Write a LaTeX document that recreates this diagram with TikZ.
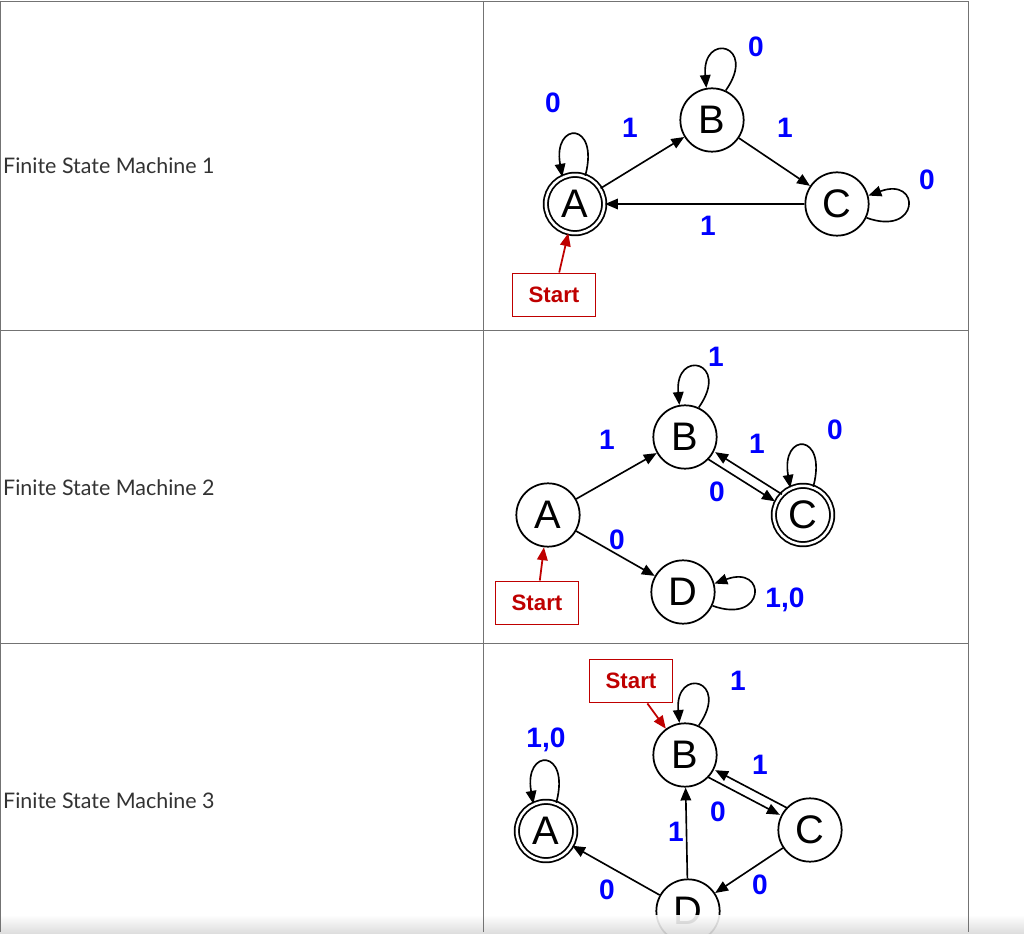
\documentclass[tikz,border=0pt]{standalone}
\usepackage{fontspec}
\setmainfont{Liberation Sans}
\newfontfamily\latofont{Lato}
\usetikzlibrary{arrows.meta}
\begin{document}
\begin{tikzpicture}[x=0.03cm,y=-0.03cm,
  st/.style={circle,draw,line width=1.5pt,minimum size=1.9cm,inner sep=0pt,font=\fontsize{34}{34}\selectfont},
  acc/.style={st,double,double distance=2.2pt,minimum size=1.75cm},
  lb/.style={text=blue,font=\bfseries\fontsize{24}{24}\selectfont,inner sep=0pt},
  startbox/.style={draw=red!75!black,line width=1.4pt,text=red!75!black,font=\bfseries\fontsize{19}{19}\selectfont,minimum width=2.5cm,minimum height=1.3cm},
  tr/.style={-{Triangle[length=11pt,width=9pt]},line width=1.4pt},
  sa/.style={-{Triangle[length=11pt,width=9pt]},line width=1.5pt,red!75!black},
  row/.style={font=\latofont\fontsize{18.3}{18.3}\selectfont,anchor=west,inner sep=0pt,text=black!80}]
\useasboundingbox (0,0) rectangle (1024,934);
\fill[white] (0,0) rectangle (1024,934);
\begin{scope}
\clip (0,0) rectangle (1024,934);
% FSM1
\node[acc] (A1) at (575,204) {A};
\node[st] (B1) at (712,120) {B};
\node[st] (C1) at (837,204) {C};
\node[startbox] (S1) at (554,295) {Start};
\draw[sa] (S1) -- (A1);
\draw[tr] (A1) -- (B1); \node[lb] (l1a) at (630,128) {1};
\draw[tr] (B1) -- (C1); \node[lb] (l1b) at (785,128) {1};
\draw[tr] (C1) -- (A1); \node[lb] (l1c) at (708,226) {1};
\draw[tr] (A1.70) .. controls +(75:1.7cm) and +(100:1.7cm) .. (A1.115); \node[lb] (l1d) at (553,103) {0};
\draw[tr] (B1.65) .. controls +(55:1.7cm) and +(95:1.7cm) .. (B1.100); \node[lb] (l1e) at (756,47) {0};
\draw[tr] (C1.-25) .. controls +(-20:1.7cm) and +(20:1.7cm) .. (C1.15); \node[lb] (l1f) at (927,180) {0};
% FSM2
\node[st] (A2) at (548,515) {A};
\node[st] (B2) at (685,437) {B};
\node[acc] (C2) at (803,515) {C};
\node[st] (D2) at (683,592) {D};
\node[startbox] (S2) at (537,603) {Start};
\draw[sa] (S2) -- (A2);
\draw[tr] (A2) -- (B2); \node[lb] (l2a) at (607,440) {1};
\draw[tr] (A2) -- (D2); \node[lb] (l2b) at (617,540) {0};
\draw[tr] ([xshift=-3pt,yshift=-3pt]B2.-35) -- ([xshift=-3pt,yshift=-3pt]C2.145); \node[lb] (l2c) at (717,492) {0};
\draw[tr] ([xshift=3pt,yshift=3pt]C2.145) -- ([xshift=3pt,yshift=3pt]B2.-35); \node[lb] (l2d) at (757,444) {1};
\draw[tr] (B2.65) .. controls +(55:1.7cm) and +(95:1.7cm) .. (B2.100); \node[lb] (l2e) at (716,357) {1};
\draw[tr] (C2.70) .. controls +(75:1.7cm) and +(100:1.7cm) .. (C2.115); \node[lb] (l2f) at (835,430) {0};
\draw[tr] (D2.-25) .. controls +(-20:1.7cm) and +(20:1.7cm) .. (D2.15); \node[lb] (l2g) at (785,600) {1,0};
% FSM3
\node[acc] (A3) at (546,831) {A};
\node[st] (B3) at (685,755) {B};
\node[st] (C3) at (810,830) {C};
\node[st] (D3) at (688,911) {D};
\node[startbox] (S3) at (631,681) {Start};
\draw[sa] (S3) -- (B3);
\draw[tr] (B3.65) .. controls +(55:1.7cm) and +(95:1.7cm) .. (B3.100); \node[lb] (l3a) at (738,681) {1};
\draw[tr] (A3.70) .. controls +(75:1.7cm) and +(100:1.7cm) .. (A3.115); \node[lb] (l3b) at (546,740) {1,0};
\draw[tr] ([xshift=3pt,yshift=3pt]C3.145) -- ([xshift=3pt,yshift=3pt]B3.-35); \node[lb] (l3c) at (760,765) {1};
\draw[tr] ([xshift=-3pt,yshift=-3pt]B3.-35) -- ([xshift=-3pt,yshift=-3pt]C3.145); \node[lb] (l3d) at (718,812) {0};
\draw[tr] (D3) -- (B3); \node[lb] (l3e) at (676,832) {1};
\draw[tr] (C3) -- (D3); \node[lb] (l3f) at (760,885) {0};
\draw[tr] (D3) -- (A3); \node[lb] (l3g) at (607,890) {0};
\end{scope}
\shade[top color=white,bottom color=black!15,opacity=0.9] (0,915) rectangle (1024,934);
\draw[black!55,line width=0.8pt] (0,1) -- (968,1) -- (968,932) (0,330) -- (968,330) (0,643) -- (968,643) (483,1) -- (483,932) (0,1) -- (0,932);
\node[row] (r1) at (3,166) {Finite State Machine 1};
\node[row] (r2) at (3,488) {Finite State Machine 2};
\node[row] (r3) at (3,801) {Finite State Machine 3};
\end{tikzpicture}
\end{document}
